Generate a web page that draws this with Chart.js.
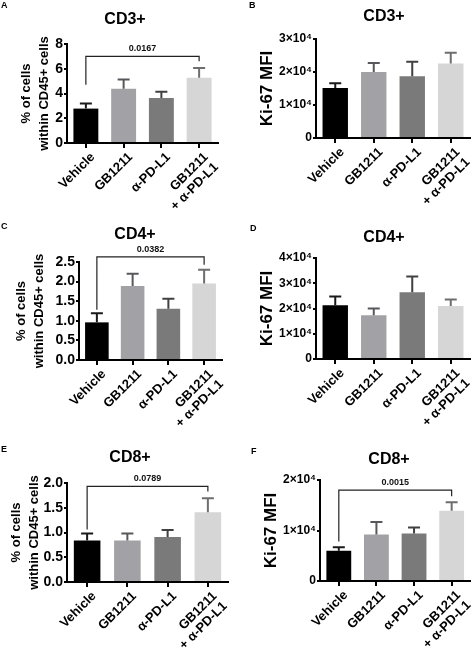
<!DOCTYPE html>
<html>
<head>
<meta charset="utf-8">
<title>Ki-67 / CD45+ panels</title>
<script src="https://cdn.jsdelivr.net/npm/chart.js@4"></script>
<style>
    html, body { margin: 0; padding: 0; background: #fff; }
    #figure { position: relative; width: 474px; height: 647px; overflow: hidden; }
    #figure canvas { position: absolute; }
</style>
</head>
<body>
<div id="figure"></div>
<script>
// Groups shared by all panels
const GROUPS = ['Vehicle', 'GB1211', 'α-PD-L1', ['GB1211', '+ α-PD-L1']];
const BAR_COLORS = ['#000000', '#a2a2a6', '#7a7a7a', '#d6d6d6'];
const ERR_COLORS = ['#1a1a1a', '#58585c', '#404040', '#6e6e6e'];

// A - CD3+ % of CD45+ cells
const CD3_PCT = [2.78, 4.39, 3.64, 5.27];
const CD3_PCT_SEM = [0.42, 0.74, 0.50, 0.80];
const CD3_PCT_TICKS = [0, 2, 4, 6, 8];
const CD3_PCT_SIG = ['0.0167', 7.0, 4.7, 6.6];   // p, bracket level, left foot, right foot

// B - CD3+ Ki-67 MFI
const CD3_MFI = [15150, 20000, 18700, 22600];
const CD3_MFI_SEM = [1450, 2700, 4400, 3200];
const CD3_MFI_TICKS = [0, 10000, 20000, 30000];

// C - CD4+ % of CD45+ cells
const CD4_PCT = [0.96, 1.89, 1.31, 1.95];
const CD4_PCT_SEM = [0.23, 0.31, 0.25, 0.35];
const CD4_PCT_TICKS = [0, 0.5, 1.0, 1.5, 2.0, 2.5];
const CD4_PCT_SIG = ['0.0382', 2.63, 1.28, 2.43];

// D - CD4+ Ki-67 MFI
const CD4_MFI = [21300, 17300, 26400, 21000];
const CD4_MFI_SEM = [3500, 2700, 6300, 2600];
const CD4_MFI_TICKS = [0, 10000, 20000, 30000, 40000];

// E - CD8+ % of CD45+ cells
const CD8_PCT = [0.84, 0.84, 0.91, 1.41];
const CD8_PCT_SEM = [0.14, 0.14, 0.14, 0.28];
const CD8_PCT_TICKS = [0, 0.5, 1.0, 1.5, 2.0];
const CD8_PCT_SIG = ['0.0789', 1.93, 1.06, 1.83];

// F - CD8+ Ki-67 MFI
const CD8_MFI = [6000, 9200, 9400, 13900];
const CD8_MFI_SEM = [700, 2500, 1200, 1700];
const CD8_MFI_TICKS = [0, 10000, 20000];
const CD8_MFI_SIG = ['0.0015', 18000, 7800, 16800];

const PCT_TITLE = ['% of cells', 'within CD45+ cells'];
const MFI_TITLE = 'Ki-67 MFI';

// Layout of each panel: canvas position and target chart area (canvas coords)
const PANELS = [
    { letter: 'A', title: 'CD3+', values: CD3_PCT, sem: CD3_PCT_SEM, ticks: CD3_PCT_TICKS, sig: CD3_PCT_SIG,
      yTitle: PCT_TITLE, sci: false, left: 0, top: 0, h: 215,
      area: { l: 67, t: 44, r: 218, b: 143 }, titleAt: [125, 20], letterAt: [1, 6], yTitlePad: 17 },
    { letter: 'B', title: 'CD3+', values: CD3_MFI, sem: CD3_MFI_SEM, ticks: CD3_MFI_TICKS, sig: null,
      yTitle: MFI_TITLE, sci: true, left: 237, top: 0, h: 215,
      area: { l: 79, t: 39, r: 233, b: 138 }, titleAt: [147, 17], letterAt: [12, 6], yTitlePad: 20 },
    { letter: 'C', title: 'CD4+', values: CD4_PCT, sem: CD4_PCT_SEM, ticks: CD4_PCT_TICKS, sig: CD4_PCT_SIG,
      yTitle: PCT_TITLE, sci: false, left: 0, top: 215, h: 215,
      area: { l: 79, t: 47, r: 222, b: 145 }, titleAt: [135, 20], letterAt: [1, 12], yTitlePad: 12 },
    { letter: 'D', title: 'CD4+', values: CD4_MFI, sem: CD4_MFI_SEM, ticks: CD4_MFI_TICKS, sig: null,
      yTitle: MFI_TITLE, sci: true, left: 237, top: 215, h: 215,
      area: { l: 79, t: 43, r: 233, b: 144 }, titleAt: [147, 23], letterAt: [13, 14], yTitlePad: 20 },
    { letter: 'E', title: 'CD8+', values: CD8_PCT, sem: CD8_PCT_SEM, ticks: CD8_PCT_TICKS, sig: CD8_PCT_SIG,
      yTitle: PCT_TITLE, sci: false, left: 0, top: 430, h: 217,
      area: { l: 67, t: 53, r: 228, b: 152 }, titleAt: [130, 28], letterAt: [1, 20], yTitlePad: 7 },
    { letter: 'F', title: 'CD8+', values: CD8_MFI, sem: CD8_MFI_SEM, ticks: CD8_MFI_TICKS, sig: CD8_MFI_SIG,
      yTitle: MFI_TITLE, sci: true, left: 237, top: 430, h: 217,
      area: { l: 83, t: 50, r: 236, b: 151 }, titleAt: [152, 30], letterAt: [14, 22], yTitlePad: 24 }
];

const FONT = "'Liberation Sans', Arial, sans-serif";
Chart.defaults.font.family = FONT;
Chart.defaults.color = '#000';

// error bars, significance bracket, panel title and letter
function makeAnnotations(p) {
    return {
        id: 'annotations' + p.letter,
        afterDatasetsDraw(chart) {
            const ctx = chart.ctx;
            const xs = chart.scales.x;
            const ys = chart.scales.y;
            ctx.save();
            ctx.lineWidth = 2;
            p.values.forEach((v, i) => {
                const x = xs.getPixelForValue(i);
                const y0 = ys.getPixelForValue(v);
                const y1 = ys.getPixelForValue(v + p.sem[i]);
                ctx.strokeStyle = ERR_COLORS[i];
                ctx.beginPath();
                ctx.moveTo(x, y0);
                ctx.lineTo(x, y1);
                ctx.moveTo(x - 6, y1);
                ctx.lineTo(x + 6, y1);
                ctx.stroke();
            });
            if (p.sig) {
                const [label, level, footL, footR] = p.sig;
                const xa = xs.getPixelForValue(0);
                const xb = xs.getPixelForValue(p.values.length - 1);
                const yl = ys.getPixelForValue(level);
                ctx.strokeStyle = '#222';
                ctx.lineWidth = 1.2;
                ctx.beginPath();
                ctx.moveTo(xa, ys.getPixelForValue(footL));
                ctx.lineTo(xa, yl);
                ctx.lineTo(xb, yl);
                ctx.lineTo(xb, ys.getPixelForValue(footR));
                ctx.stroke();
                ctx.fillStyle = '#111';
                ctx.font = 'bold 9px ' + FONT;
                ctx.textAlign = 'center';
                ctx.textBaseline = 'bottom';
                ctx.fillText(label, (xa + xb) / 2, yl - 3);
            }
            ctx.restore();
        },
        afterDraw(chart) {
            const ctx = chart.ctx;
            ctx.save();
            ctx.fillStyle = '#000';
            ctx.textAlign = 'center';
            ctx.textBaseline = 'middle';
            ctx.font = 'bold 16px ' + FONT;
            ctx.fillText(p.title, p.titleAt[0], p.titleAt[1]);
            ctx.textAlign = 'left';
            ctx.font = 'bold 9px ' + FONT;
            ctx.fillText(p.letter, p.letterAt[0], p.letterAt[1]);
            ctx.restore();
        }
    };
}

function buildPanel(p) {
    const canvas = document.createElement('canvas');
    canvas.style.left = p.left + 'px';
    canvas.style.top = p.top + 'px';
    canvas.style.width = '237px';
    canvas.style.height = p.h + 'px';
    document.getElementById('figure').appendChild(canvas);

    const yWidth = p.area.l;
    const xHeight = p.h - p.area.b;
    const step = p.ticks[1] - p.ticks[0];

    return new Chart(canvas, {
        type: 'bar',
        data: {
            labels: GROUPS,
            datasets: [{
                data: p.values,
                backgroundColor: BAR_COLORS,
                borderWidth: 0,
                barPercentage: 0.66,
                categoryPercentage: 1
            }]
        },
        options: {
            responsive: false,
            maintainAspectRatio: false,
            animation: false,
            devicePixelRatio: 1,
            layout: {
                padding: { top: p.area.t, right: 237 - p.area.r, bottom: 0, left: 0 }
            },
            plugins: {
                legend: { display: false },
                tooltip: { enabled: false }
            },
            scales: {
                x: {
                    afterFit: scale => { scale.height = xHeight; },
                    border: { display: true, color: '#000', width: 2 },
                    grid: {
                        display: true,
                        drawOnChartArea: false,
                        offset: false,
                        tickLength: 5,
                        color: '#000',
                        lineWidth: 2
                    },
                    ticks: {
                        autoSkip: false,
                        minRotation: 45,
                        maxRotation: 45,
                        padding: 2,
                        labelOffset: 7,
                        font: { size: 13, weight: 'bold', lineHeight: 1.1 }
                    }
                },
                y: {
                    min: p.ticks[0],
                    max: p.ticks[p.ticks.length - 1],
                    afterFit: scale => { scale.width = yWidth; },
                    border: { display: true, color: '#000', width: 2 },
                    grid: {
                        display: true,
                        drawOnChartArea: false,
                        tickLength: 3,
                        color: '#000',
                        lineWidth: 2
                    },
                    ticks: {
                        autoSkip: false,
                        stepSize: step,
                        padding: 1,
                        font: { size: p.sci ? 12 : 14, weight: 'bold' },
                        callback: value => {
                            if (p.sci) return value === 0 ? '0' : (value / 10000) + '×10⁴';
                            return step < 1 ? value.toFixed(1) : String(value);
                        }
                    },
                    title: {
                        display: true,
                        text: p.yTitle,
                        padding: { top: p.yTitlePad, bottom: 0 },
                        font: p.sci
                            ? { size: 17, weight: 'bold', lineHeight: 1.2 }
                            : { size: 13, weight: 'bold', lineHeight: 1.385 }
                    }
                }
            }
        },
        plugins: [makeAnnotations(p)]
    });
}

PANELS.forEach(buildPanel);
</script>
</body>
</html>
